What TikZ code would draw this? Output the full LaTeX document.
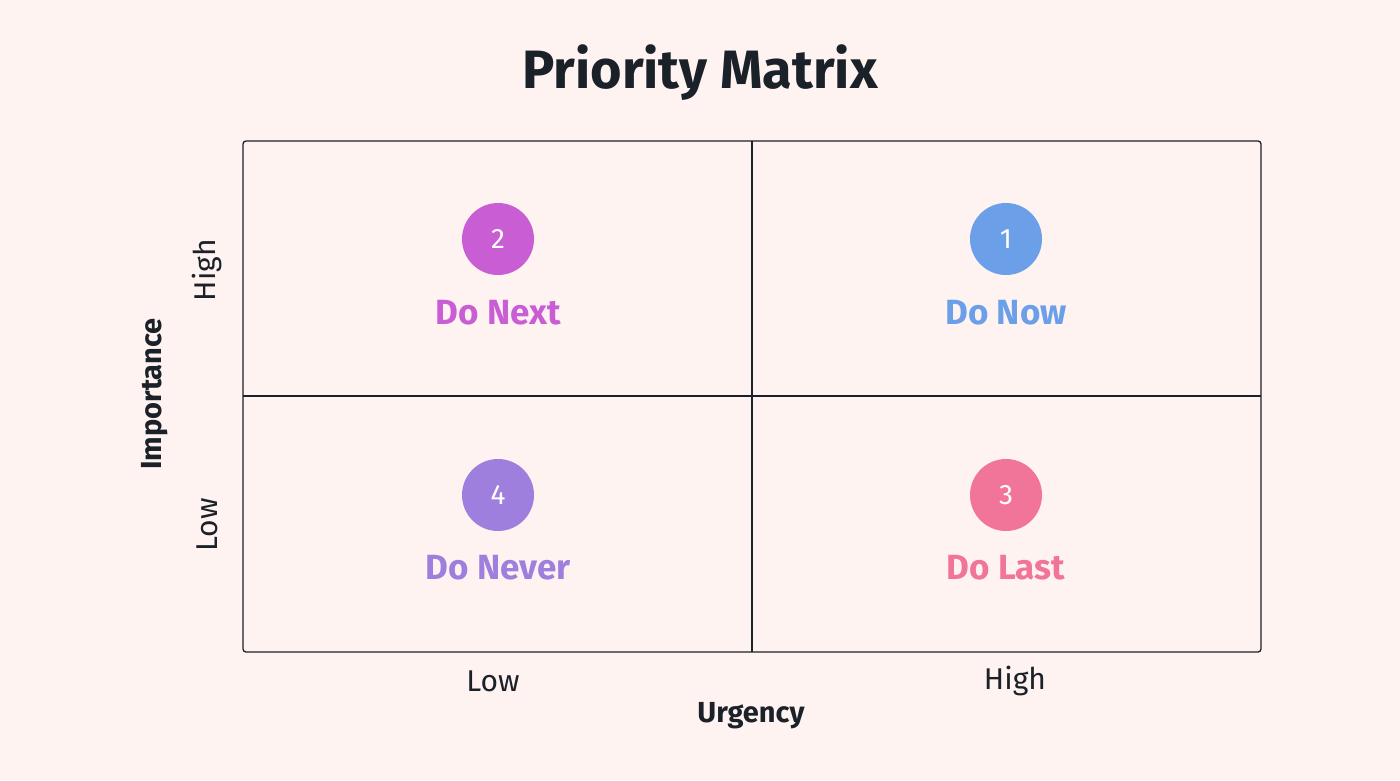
\documentclass[tikz,border=0pt]{standalone}
\usepackage{fontspec}
\setmainfont{Fira Sans}
\definecolor{bgpink}{HTML}{FFF3F2}
\definecolor{inkdark}{HTML}{1B2128}
\definecolor{cnext}{HTML}{C95ED4}
\definecolor{cnow}{HTML}{6B9FE8}
\definecolor{cnever}{HTML}{9E7FDD}
\definecolor{clast}{HTML}{F07599}
\begin{document}
\begin{tikzpicture}[x=1pt,y=-1pt,line width=1.3pt]

\tikzstyle{badge} = [circle,inner sep=0,minimum size=72pt,text=white,font=\fontsize{28}{28}\selectfont];
\tikzstyle{task} = [font=\fontsize{35}{35}\selectfont\bfseries];
\tikzstyle{axis} = [text=inkdark,font=\fontsize{30}{30}\selectfont];
\tikzstyle{axistitle} = [text=inkdark,font=\fontsize{29}{29}\selectfont\bfseries];

\fill[bgpink] (0,0) rectangle (1400,780);
\useasboundingbox (0,0) rectangle (1400,780);

\node[text=inkdark,font=\fontsize{54}{54}\selectfont\bfseries] (title) at (700,73) {Priority Matrix};

% grid
\coordinate (nw) at (243,141);
\coordinate (se) at (1261,652);
\draw[inkdark,rounded corners=3pt] (nw) rectangle (se);
\draw[inkdark] (752,141) -- (752,652);
\draw[inkdark] (243,396) -- (1261,396);

% quadrants
\node[badge,fill=cnext] (b2) at (498,239) {2};
\node[task,text=cnext] (t2) at (498,313) {Do Next};
\node[badge,fill=cnow] (b1) at (1006,239) {1};
\node[task,text=cnow] (t1) at (1006,313) {Do Now};
\node[badge,fill=cnever] (b4) at (498,495) {4};
\node[task,text=cnever] (t4) at (498,568) {Do Never};
\node[badge,fill=clast] (b3) at (1006,495) {3};
\node[task,text=clast] (t3) at (1006,568) {Do Last};

% axes
\node[axis] (ulow) at (493,681) {Low};
\node[axis] (uhigh) at (1015,681) {High};
\node[axistitle] (urg) at (751,716) {Urgency};
\node[axis,rotate=90] (ihigh) at (207,270) {High};
\node[axis,rotate=90] (ilow) at (207,525) {Low};
\node[axistitle,rotate=90] (imp) at (155,394) {Importance};
\end{tikzpicture}
\end{document}
